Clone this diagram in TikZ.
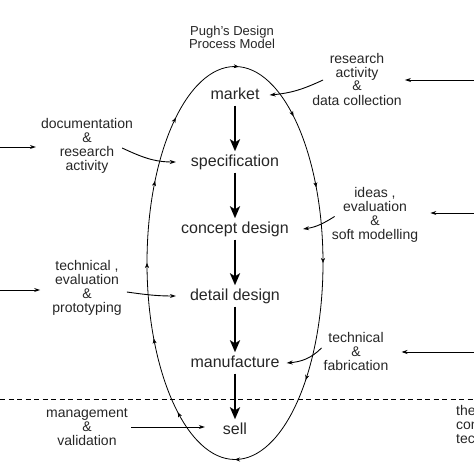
\documentclass[tikz,border=0pt]{standalone}
\usepackage{fontspec}
\setmainfont{Liberation Sans}
\usetikzlibrary{arrows,arrows.meta,positioning,decorations.markings}

\tikzset{
  stage/.style={font=\fontsize{16}{16}\selectfont, text height=12pt, text depth=3pt, inner sep=3pt},
  note/.style={font=\fontsize{14}{14}\selectfont, align=center, inner sep=3pt},
  heading/.style={font=\fontsize{13}{13}\selectfont, align=center},
  flow/.style={line width=2.4pt, -{Stealth[length=12pt,width=10pt,inset=3pt]}},
  feed/.style={line width=0.9pt, -{Stealth[length=6pt,width=4pt]}},
  cut/.style={line width=0.8pt, dash pattern=on 5pt off 3.5pt}
}

\begin{document}
\begin{tikzpicture}[x=1pt,y=1pt,node distance=45.6pt,every node/.style={text=black!85}]
\useasboundingbox (0,0) rectangle (474,474);
%%the stages down the middle
\node[stage] (market) at (235,379) {market};
\node[stage,below=of market] (spec) {specification};
\node[stage,below=of spec] (concept) {concept design};
\node[stage,below=of concept] (detail) {detail design};
\node[stage,below=of detail] (manuf) {manufacture};
\node[stage,below=of manuf] (sell) {sell};
\foreach \a/\b in {market/spec,spec/concept,concept/detail,detail/manuf,manuf/sell}
  \draw[flow] (\a) -- (\b);
\node[heading] (pugh) at (232,437) {Pugh's Design\\Process Model};
%%now for the loop round the stages
\path (235,407.5) coordinate (top);
\draw[line width=0.8pt] (top) arc (90:-270:88pt and 196.5pt);
\foreach \p in {0.004,0.087,0.168,0.25,0.378,0.5,0.584,0.668,0.75,0.839,0.911}
  \path[decorate,decoration={markings,mark=at position \p with {\arrow{Stealth[length=5pt,width=4pt]}}}]
    (top) arc (90:-270:88pt and 196.5pt);
%%the inputs
\node[note] (research) at (357,395) {research\\activity\\\&\\data collection};
\node[note] (doc) at (87,328) {documentation\\\&\\research\\activity};
\node[note] (ideas) at (375,259.5) {ideas ,\\evaluation\\\&\\soft modelling};
\node[note] (techeval) at (87,186) {technical ,\\evaluation\\\&\\prototyping};
\node[note] (techfab) at (356,123) {technical\\\&\\fabrication};
\node[note] (mgmt) at (87,47) {management\\\&\\validation};
\node[note,align=left,anchor=west] (theory) at (453,50) {the\\con\\tec};
\path (474,394) coordinate (inR1) (474,261) coordinate (inR2) (474,122) coordinate (inR3)
  (0,327) coordinate (inL1) (0,184) coordinate (inL2);
\draw[feed] (inR1) -- (research.east |- inR1);
\draw[feed] (inR2) -- ([xshift=9pt]ideas.east |- inR2);
\draw[feed] (inR3) -- ([xshift=10pt]techfab.east |- inR3);
\draw[feed] (inL1) -- ([xshift=-2pt]doc.west |- inL1);
\draw[feed] (inL2) -- ([xshift=-9pt]techeval.west |- inL2);
%%curved arrows onto the stages
\draw[feed] ([xshift=14pt,yshift=-1pt]research.west) to[out=205,in=5] ([xshift=7pt]market.east);
\draw[feed] ([xshift=-14pt,yshift=-2pt]doc.east) to[out=-25,in=180] ([xshift=-12pt]spec.west);
\draw[feed] ([xshift=6pt,yshift=-2pt]ideas.west) to[out=212,in=8] ([xshift=11pt]concept.east);
\draw[feed] ([xshift=2pt,yshift=-4pt]techeval.east) to[out=-8,in=180] ([xshift=-11pt]detail.west);
\draw[feed] ([xshift=1pt,yshift=3pt]techfab.west) to[out=225,in=5] ([xshift=4pt]manuf.east);
\draw[feed] (mgmt.east) -- ([xshift=-15pt]sell.west |- mgmt.east);
%%finally the dashed line
\draw[cut] (0,75) -- (474,75);
\end{tikzpicture}
\end{document}
